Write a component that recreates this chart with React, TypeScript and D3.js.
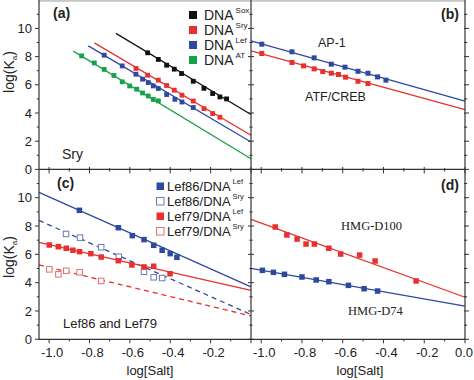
import React from "react";
import * as d3 from "d3";

// ---------- data ----------
// Panel (a)
const aSoxX = [-0.512, -0.459, -0.418, -0.380, -0.344, -0.286, -0.233, -0.190, -0.154, -0.121];
const aSoxY = [8.27, 7.80, 7.39, 7.11, 6.80, 6.25, 5.75, 5.38, 5.14, 5.00];
const aSryX = [-0.570, -0.512, -0.459, -0.418, -0.380, -0.342, -0.286, -0.233, -0.190, -0.154];
const aSryY = [7.16, 6.68, 6.33, 5.95, 5.62, 5.26, 4.85, 4.31, 3.96, 3.70];
const aLefX = [-0.727, -0.638, -0.570, -0.537, -0.509, -0.484, -0.459, -0.418, -0.377, -0.342, -0.286];
const aLefY = [8.10, 7.34, 6.75, 6.40, 6.16, 5.92, 5.74, 5.31, 4.97, 4.78, 4.39];
const aAtX = [-0.839, -0.776, -0.727, -0.679, -0.638, -0.601, -0.566, -0.537, -0.509, -0.484, -0.459];
const aAtY = [8.05, 7.55, 7.09, 6.66, 6.21, 5.92, 5.69, 5.42, 5.21, 4.96, 4.86];
const aFitStart = [-0.669, -0.776, -0.806, -0.880];
const aFitIntercept = [3.89, 2.42, 1.94, 0.76];
const aFitSlope = [-8.6, -8.45, -8.46, -8.67];
const aLegend = ["Sox", "Sry", "Lef", "AT"];

// Panel (b)
const bAp1X = [-0.997, -0.849, -0.740, -0.656, -0.589, -0.525, -0.476, -0.429, -0.388];
const bAp1Y = [8.88, 8.34, 7.91, 7.46, 7.25, 6.96, 6.82, 6.56, 6.33];
const bCrebX = [-0.997, -0.849, -0.792, -0.740, -0.698, -0.656, -0.621, -0.586, -0.525, -0.476];
const bCrebY = [8.22, 7.58, 7.34, 7.13, 6.94, 6.82, 6.73, 6.54, 6.25, 6.09];
const bFitIntercept = [4.85, 4.24];
const bFitSlope = [-4.07, -3.97];

// Panel (c)
const c86LefX = [-0.850, -0.657, -0.588, -0.530, -0.482, -0.440, -0.400, -0.367];
const c86LefY = [9.11, 7.88, 7.32, 7.04, 6.64, 6.29, 6.05, 5.79];
const c86SryX = [-0.916, -0.847, -0.742, -0.655, -0.530, -0.482, -0.440];
const c86SryY = [7.44, 7.18, 6.50, 5.83, 4.77, 4.38, 4.33];
const c79LefX = [-0.999, -0.954, -0.915, -0.882, -0.849, -0.793, -0.742, -0.657, -0.590, -0.530, -0.482, -0.401];
const c79LefY = [6.66, 6.54, 6.43, 6.29, 6.19, 6.05, 5.81, 5.55, 5.25, 5.11, 5.16, 4.63];
const c79SryX = [-0.999, -0.954, -0.915, -0.849, -0.742];
const c79SryY = [4.94, 4.59, 4.84, 4.73, 4.12];
const cFitIntercept = [3.7, 1.75, 3.45, 1.65];
const cFitSlope = [-6.36, -6.33, -3.24, -3.43];
const cLegendName = ["Lef86/DNA", "Lef86/DNA", "Lef79/DNA", "Lef79/DNA"];
const cLegendSup = ["Lef", "Sry", "Lef", "Sry"];

// Panel (d)
const dD100X = [-0.931, -0.874, -0.824, -0.780, -0.739, -0.668, -0.610, -0.517, -0.441, -0.240];
const dD100Y = [7.93, 7.37, 7.08, 6.73, 6.73, 6.43, 6.02, 5.95, 5.53, 4.12];
const dD74X = [-0.994, -0.940, -0.886, -0.800, -0.730, -0.668, -0.572, -0.495, -0.429];
const dD74Y = [4.87, 4.73, 4.59, 4.40, 4.19, 4.07, 3.81, 3.57, 3.41];
const dFitIntercept = [2.97, 2.35];
const dFitSlope = [-5.24, -2.53];

// axis ticks
const yMajor = [0, 2, 4, 6, 8, 10];
const yMinor = [1, 3, 5, 7, 9, 11];
const xMajor = [-1.0, -0.8, -0.6, -0.4, -0.2, 0.0];
const xMinor = [-0.9, -0.7, -0.5, -0.3, -0.1];
const xLabelsLeft = ["-1.0", "-0.8", "-0.6", "-0.4", "-0.2"];
const xLabelsRight = ["-1.0", "-0.8", "-0.6", "-0.4", "-0.2", "0.0"];

// ---------- style ----------
const BLACK = "#111";
const RED = "#e8302e";
const BLUE = "#2d4aa0";
const GREEN = "#17a24a";
const BLUE_OPEN = "#6a7ab8";
const RED_OPEN = "#e27070";
const AX = "#333";
const SANS = "Liberation Sans, Arial, Helvetica, sans-serif";
const SERIF = "Liberation Serif, Times New Roman, serif";

const X0 = 39, XM = 251, X1 = 465;
const YT = 0.2, YM = 169.4, YB = 339.3;

const xL = d3.scaleLinear().domain([-1.05, 0]).range([X0, XM]);
const xR = d3.scaleLinear().domain([-1.05, 0]).range([XM, X1]);
const yT = d3.scaleLinear().domain([0, 12]).range([YM, YT]);
const yB = d3.scaleLinear().domain([0, 12]).range([YB, YM]);

type Sc = d3.ScaleLinear<number, number>;

function Squares({ xs, ys, sx, sy, color, open = false, size = 5 }: { xs: number[]; ys: number[]; sx: Sc; sy: Sc; color: string; open?: boolean; size?: number }) {
  return (
    <g>
      {xs.map((x, i) => (
        <rect
          key={i}
          x={sx(x) - size / 2}
          y={sy(ys[i]) - size / 2}
          width={size}
          height={size}
          fill={open ? "#fff" : color}
          stroke={open ? color : "none"}
          strokeWidth={open ? 1 : 0}
        />
      ))}
    </g>
  );
}

function FitLine({ start, intercept, slope, sx, sy, color, dashed = false }: { start: number; intercept: number; slope: number; sx: Sc; sy: Sc; color: string; dashed?: boolean }) {
  const pts: [number, number][] = [start, 0].map((x) => [sx(x), sy(intercept + slope * x)]);
  const line = d3.line();
  return <path d={line(pts) || ""} stroke={color} strokeWidth={1.3} fill="none" strokeDasharray={dashed ? "5,4" : undefined} />;
}

function YTicks({ x, sy, mode }: { x: number; sy: Sc; mode: "out" | "cross" | "right" }) {
  const ext = (major: boolean): [number, number] => {
    const L = major ? 4 : 2.2;
    if (mode === "out") return [x - L, x];
    if (mode === "right") return [x - 1, x + L];
    return [x - L * 0.75, x + L * 0.75];
  };
  return (
    <g stroke={AX} strokeWidth={1}>
      {yMajor.map((v) => {
        const [a, b] = ext(true);
        return <line key={"M" + v} x1={a} x2={b} y1={sy(v)} y2={sy(v)} />;
      })}
      {yMinor.map((v) => {
        const [a, b] = ext(false);
        return <line key={"m" + v} x1={a} x2={b} y1={sy(v)} y2={sy(v)} />;
      })}
    </g>
  );
}

function XTicks({ y, sx, mode }: { y: number; sx: Sc; mode: "cross" | "down" }) {
  const ext = (major: boolean): [number, number] => {
    const L = major ? 4 : 2.2;
    if (mode === "down") return [y, y + L];
    return [y - L * 0.6, y + L];
  };
  return (
    <g stroke={AX} strokeWidth={1}>
      {xMajor.map((v) => {
        const [a, b] = ext(true);
        return <line key={"M" + v} y1={a} y2={b} x1={sx(v)} x2={sx(v)} />;
      })}
      {xMinor.map((v) => {
        const [a, b] = ext(false);
        return <line key={"m" + v} y1={a} y2={b} x1={sx(v)} x2={sx(v)} />;
      })}
    </g>
  );
}

function YLabel({ cy }: { cy: number }) {
  return (
    <text transform={`translate(14,${cy}) rotate(-90)`} textAnchor="middle" fontFamily={SANS} fontSize={14} fill="#222">
      log(K<tspan fontSize={8} dy={3}>a</tspan>
      <tspan dy={-3}>)</tspan>
    </text>
  );
}

export default function App() {
  const aColors = [BLACK, RED, BLUE, GREEN];
  const aXs = [aSoxX, aSryX, aLefX, aAtX];
  const aYs = [aSoxY, aSryY, aLefY, aAtY];
  const cColors = [BLUE, BLUE_OPEN, RED, RED_OPEN];
  const cOpen = [false, true, false, true];
  return (
    <svg width={474} height={380} style={{ position: "absolute", left: 0, top: 0, background: "#fff" }} fontFamily={SANS}>
      <rect x={0} y={0} width={474} height={380} fill="#fff" />
      {/* top gray strip */}
      <rect x={X0} y={0} width={X1 - X0} height={1.8} fill="#c8c8c8" />

      {/* ---------- panel (a) ---------- */}
      {aXs.map((xs, k) => (
        <FitLine key={"af" + k} start={aFitStart[k]} intercept={aFitIntercept[k]} slope={aFitSlope[k]} sx={xL} sy={yT} color={aColors[k]} />
      ))}
      {aXs.map((xs, k) => (
        <Squares key={"as" + k} xs={xs} ys={aYs[k]} sx={xL} sy={yT} color={aColors[k]} size={4.8} />
      ))}
      {aLegend.map((s, i) => (
        <g key={"al" + i}>
          <rect x={189} y={11 + i * 15} width={8} height={8} fill={aColors[i]} />
          <text x={204} y={20 + i * 15} fontSize={14} fill="#222">
            DNA<tspan fontSize={8} dx={2} dy={-7}>{s}</tspan>
          </text>
        </g>
      ))}
      <text x={53} y={18} fontSize={14} fontWeight="bold" fill="#222">(a)</text>
      <text x={62} y={159} fontSize={14} fill="#222">Sry</text>

      {/* ---------- panel (b) ---------- */}
      {bFitIntercept.map((b, k) => (
        <FitLine key={"bf" + k} start={-1.05} intercept={b} slope={bFitSlope[k]} sx={xR} sy={yT} color={k === 0 ? BLUE : RED} />
      ))}
      <Squares xs={bAp1X} ys={bAp1Y} sx={xR} sy={yT} color={BLUE} />
      <Squares xs={bCrebX} ys={bCrebY} sx={xR} sy={yT} color={RED} />
      <text x={318} y={47} fontSize={12.5} fill="#222">AP-1</text>
      <text x={305} y={101} fontSize={12.5} fill="#222">ATF/CREB</text>
      <text x={441} y={19} fontSize={14} fontWeight="bold" fill="#222">(b)</text>

      {/* ---------- panel (c) ---------- */}
      {cFitIntercept.map((b, k) => (
        <FitLine key={"cf" + k} start={-1.05} intercept={b} slope={cFitSlope[k]} sx={xL} sy={yB} color={k < 2 ? BLUE : RED} dashed={k % 2 === 1} />
      ))}
      <Squares xs={c86SryX} ys={c86SryY} sx={xL} sy={yB} color={BLUE_OPEN} open size={5.5} />
      <Squares xs={c79SryX} ys={c79SryY} sx={xL} sy={yB} color={RED_OPEN} open size={5.5} />
      <Squares xs={c86LefX} ys={c86LefY} sx={xL} sy={yB} color={BLUE} size={5.5} />
      <Squares xs={c79LefX} ys={c79LefY} sx={xL} sy={yB} color={RED} size={5.5} />
      {cLegendName.map((s, i) => (
        <g key={"cl" + i}>
          <rect
            x={156.5}
            y={182.5 + i * 15}
            width={7.5}
            height={7.5}
            fill={cOpen[i] ? "#fff" : cColors[i]}
            stroke={cOpen[i] ? cColors[i] : "none"}
          />
          <text x={167} y={191 + i * 15} fontSize={13} fill="#222">
            {s}<tspan fontSize={7.5} dx={2} dy={-7}>{cLegendSup[i]}</tspan>
          </text>
        </g>
      ))}
      <text x={57} y={188} fontSize={14} fontWeight="bold" fill="#222">(c)</text>
      <text x={63} y={328} fontSize={13} fill="#222">Lef86 and Lef79</text>

      {/* ---------- panel (d) ---------- */}
      {dFitIntercept.map((b, k) => (
        <FitLine key={"df" + k} start={-1.05} intercept={b} slope={dFitSlope[k]} sx={xR} sy={yB} color={k === 0 ? RED : BLUE} />
      ))}
      <Squares xs={dD100X} ys={dD100Y} sx={xR} sy={yB} color={RED} size={5.5} />
      <Squares xs={dD74X} ys={dD74Y} sx={xR} sy={yB} color={BLUE} size={5.5} />
      <text x={341} y={230} fontSize={12.5} fontFamily={SERIF} fill="#222">HMG-D100</text>
      <text x={348} y={315} fontSize={12.5} fontFamily={SERIF} fill="#222">HMG-D74</text>
      <text x={441} y={190} fontSize={14} fontWeight="bold" fill="#222">(d)</text>

      {/* ---------- axes ---------- */}
      <g stroke={AX} strokeWidth={1.2} fill="none">
        <line x1={X0} x2={X0} y1={0} y2={YB} />
        <line x1={XM} x2={XM} y1={0} y2={YB} />
        <line x1={X1} x2={X1} y1={0} y2={YB} />
        <line x1={X0} x2={X1} y1={YM} y2={YM} />
        <line x1={X0} x2={X1} y1={YB} y2={YB} />
      </g>
      <YTicks x={X0} sy={yT} mode="out" />
      <YTicks x={X0} sy={yB} mode="out" />
      <YTicks x={XM} sy={yT} mode="cross" />
      <YTicks x={XM} sy={yB} mode="cross" />
      <YTicks x={X1} sy={yT} mode="right" />
      <YTicks x={X1} sy={yB} mode="right" />
      <XTicks y={YM} sx={xL} mode="cross" />
      <XTicks y={YM} sx={xR} mode="cross" />
      <XTicks y={YB} sx={xL} mode="down" />
      <XTicks y={YB} sx={xR} mode="down" />

      {/* tick labels */}
      <g fontSize={13} fill="#222" textAnchor="end">
        {yMajor.map((v) => (
          <text key={"yt" + v} x={32} y={yT(v)} dy="0.35em">{v}</text>
        ))}
        {yMajor.map((v) => (
          <text key={"yb" + v} x={32} y={yB(v)} dy="0.35em">{v}</text>
        ))}
      </g>
      <g fontSize={13} fill="#222" textAnchor="middle">
        {xLabelsLeft.map((s, i) => (
          <text key={"xl" + i} x={xL(xMajor[i]) + 3} y={357}>{s}</text>
        ))}
        {xLabelsRight.map((s, i) =>
          i === xLabelsRight.length - 1 ? (
            <text key={"xr" + i} x={473} y={357} textAnchor="end">{s}</text>
          ) : (
            <text key={"xr" + i} x={xR(xMajor[i]) + 3} y={357}>{s}</text>
          )
        )}
        <text x={150} y={375}>log[Salt]</text>
        <text x={360} y={375}>log[Salt]</text>
      </g>
      <YLabel cy={72} />
      <YLabel cy={257} />
    </svg>
  );
}
